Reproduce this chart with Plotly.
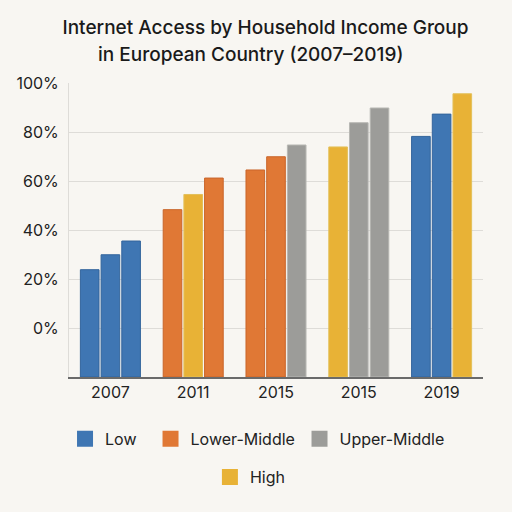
import plotly.graph_objects as go

groups = ["2007", "2011", "2015", "2015", "2019"]
bar1 = [23.8, 48.3, 64.5, 73.9, 78.2]
bar2 = [29.9, 54.5, 69.9, 83.8, 87.3]
bar3 = [35.5, 61.2, 74.7, 89.8, 95.6]
bar1_groups = ["Low", "Lower-Middle", "Lower-Middle", "High", "Low"]
bar2_groups = ["Low", "High", "Lower-Middle", "Upper-Middle", "Low"]
bar3_groups = ["Low", "Lower-Middle", "Upper-Middle", "Upper-Middle", "High"]
income_groups = ["Low", "Lower-Middle", "Upper-Middle", "High"]
y_ticks = [0, 20, 40, 60, 80, 100]
title_line1 = "Internet Access by Household Income Group"
title_line2 = "in European Country (2007–2019)"

palette = {"Low": "#3f76b3", "Lower-Middle": "#e07835", "Upper-Middle": "#9c9c99", "High": "#e8b236"}
edge = {"Low": "#33649c", "Lower-Middle": "#c9652a", "Upper-Middle": "#b8b8b4", "High": "#e3c05a"}
FLOOR = -20
FONT = "Inter, 'Open Sans', sans-serif"

# legend placement (left x, centre y) in container fractions
legend_pos = {"Low": (0.127, 0.143), "Lower-Middle": (0.294, 0.143),
              "Upper-Middle": (0.585, 0.143), "High": (0.41, 0.068)}

x_pos = list(range(len(groups)))
fig = go.Figure()
for vals, grp in [(bar1, bar1_groups), (bar2, bar2_groups), (bar3, bar3_groups)]:
    fig.add_trace(go.Bar(
        x=x_pos, y=[v - FLOOR for v in vals], base=FLOOR,
        marker=dict(color=[palette[g] for g in grp],
                    line=dict(color=[edge[g] for g in grp], width=1)),
        showlegend=False, hoverinfo="skip"))

legend_layout = {}
for i, g in enumerate(income_groups):
    key = "legend" if i == 0 else f"legend{i + 1}"
    fig.add_trace(go.Scatter(
        x=[None], y=[None], mode="markers", name=g,
        marker=dict(symbol="square", size=16, color=palette[g]),
        legend=key))
    lx, ly = legend_pos[g]
    legend_layout[key] = dict(orientation="h", xref="container", yref="container",
                              x=lx, xanchor="left", y=ly, yanchor="middle",
                              bgcolor="rgba(0,0,0,0)", borderwidth=0,
                              font=dict(size=16, color="#222"), itemwidth=30)

fig.update_layout(
    width=512, height=512,
    margin=dict(l=69, r=29, t=83, b=135),
    paper_bgcolor="#f8f6f2", plot_bgcolor="#f8f6f2",
    barmode="group", bargap=0.25, bargroupgap=0.1,
    font=dict(family=FONT, size=16, color="#222"),
    title=dict(text=title_line1, xref="container", x=0.5186, xanchor="center",
               yref="container", y=0.947, yanchor="middle",
               font=dict(family=FONT, size=19, color="#1a1a1a", weight=500)),
    annotations=[dict(text=title_line2, xref="paper", yref="paper",
                      x=0.4384, y=1.0986, xanchor="center", yanchor="middle",
                      showarrow=False,
                      font=dict(family=FONT, size=19, color="#1a1a1a", weight=500))],
    xaxis=dict(range=[-0.5, 4.5], tickvals=x_pos, ticktext=groups,
               showgrid=False, showline=True, linecolor="#6a6a6a", linewidth=1.5,
               ticks="", tickfont=dict(size=16, color="#222"), fixedrange=True),
    yaxis=dict(range=[FLOOR, 100], tickvals=y_ticks, ticktext=[f"{t}%" for t in y_ticks],
               showgrid=True, gridcolor="#dedcd8", gridwidth=1,
               showline=True, linecolor="#dedcd8", linewidth=1,
               zeroline=False, ticks="", ticklabelstandoff=6,
               tickfont=dict(size=16, color="#222")),
    **legend_layout,
)

fig.write_html("out.html", config={"displayModeBar": False},
               post_script="document.body.style.margin='0';")
